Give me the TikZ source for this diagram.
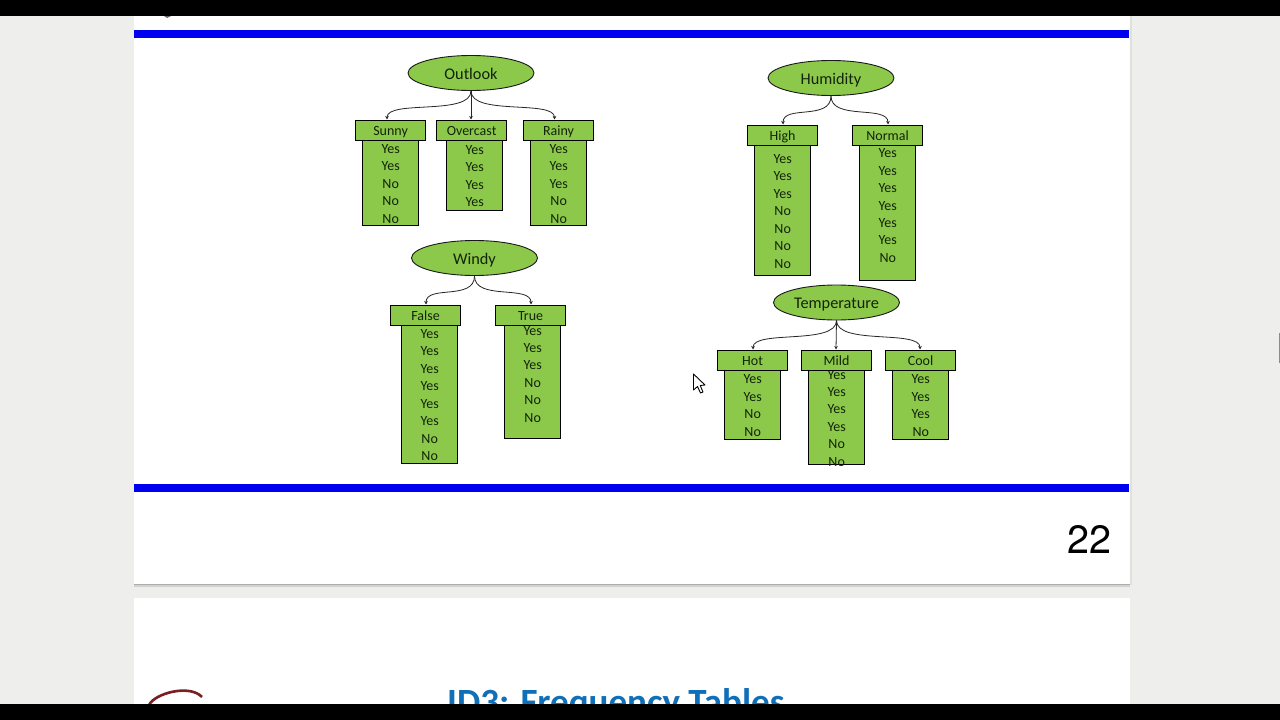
\documentclass[tikz,border=0pt]{standalone}
\usepackage{fontspec}
\setmainfont{Carlito}
\newfontfamily\numfont{TeX Gyre Heros}
\usetikzlibrary{shapes.geometric,arrows.meta,shadows}
\definecolor{leaf}{HTML}{8CC84A}
\definecolor{page}{HTML}{EEEEEC}
\definecolor{barblue}{HTML}{0000F0}
\definecolor{titleblue}{HTML}{0F6FB8}
\definecolor{logored}{HTML}{7A1E24}
\definecolor{ink}{HTML}{12240A}
\tikzset{
 attr/.style={ellipse,draw=black!90,line width=.9pt,fill=leaf,minimum width=126pt,minimum height=35pt,inner sep=0pt,text=ink,text height=12pt,text depth=0pt,font=\fontsize{16.3}{17}\selectfont},
 head/.style={rectangle,draw=black,line width=1pt,fill=leaf,minimum width=70pt,minimum height=20pt,inner sep=0pt,text=ink,text height=11pt,text depth=0pt,font=\fontsize{14}{15}\selectfont},
 body/.style={rectangle,draw=black,line width=1pt,fill=leaf,minimum width=56pt,inner sep=0pt},
 vote/.style={inner sep=0pt,text=ink,font=\fontsize{14}{15}\selectfont},
 link/.style={draw=black!85,line width=.8pt,-{Stealth[length=3.5pt,width=3.5pt]}},
 slide/.style={fill=white,draw=none},
}
% \leafbox{name}{label}{head x}{head top y}{body x}{body bottom y}{text x}{list y/word}
\newcommand{\leafbox}[8]{%
 \node[body,minimum height={#6-#4-20}] (#1b) at (#5,{(#4+20+#6)/2}) {};
 \foreach \yy/\ww [count=\ii] in {#8}{\node[vote] (#1v\ii) at (#7+.7,\yy+.9) {\ww};}
 \node[head] (#1) at (#3,#4+10) {\hspace{1.2pt}#2};
}
\newcommand{\sbend}[3]{\draw[link] (#1.south) .. controls +(0,25) and ([xshift=#3pt,yshift=20pt]#2.north) .. ([xshift=#3pt]#2.north);}
\begin{document}
\begin{tikzpicture}[x=1pt,y=-1pt]
\useasboundingbox (0,0) rectangle (1280,720);
\fill[page] (0,0) rectangle (1280,720);
% slides
\fill[black!50,opacity=.25] (134,584) rectangle (1130,587);
\fill[black!50,opacity=.45] (134,584) rectangle (1130,585.2);
\fill[black!50,opacity=.12] (1130,16) rectangle (1131.5,585);
\fill[slide] (134,16) rectangle (1130,584);
\fill[slide] (134,598) rectangle (1130,704);
\draw[black!30,line width=.6pt] (142,30) -- (320,30);
\fill[barblue] (134,30) rectangle (1129,38);
\fill[barblue] (134,484) rectangle (1129,492);
\node[inner sep=0pt,font=\numfont\fontsize{39.5}{40}\selectfont,text=black] (pagenum) at (1089,539) {22};
% Outlook
\node[attr] (outlook) at (471,73) {Outlook};
\leafbox{sunny}{Sunny}{390}{120}{390}{225}{390}{148/Yes,165/Yes,183/No,200/No,218/No}
\leafbox{overcast}{Overcast}{471}{120}{474}{210}{474}{149/Yes,166/Yes,184/Yes,201/Yes}
\leafbox{rainy}{Rainy}{558}{120}{558}{225}{558}{148/Yes,165/Yes,183/Yes,200/No,218/No}
\sbend{outlook}{sunny}{-3}
\draw[link] (outlook.south) -- (overcast.north);
\sbend{outlook}{rainy}{-3.5}
% Humidity
\node[attr] (humidity) at (831,78) {Humidity};
\leafbox{high}{High}{782}{125}{782}{275}{782}{158/Yes,175/Yes,193/Yes,210/No,228/No,245/No,263/No}
\leafbox{normal}{Normal}{887}{125}{887}{280}{887}{152/Yes,170/Yes,187/Yes,205/Yes,222/Yes,239/Yes,257/No}
\sbend{humidity}{high}{1}
\sbend{humidity}{normal}{1}
% Windy
\node[attr] (windy) at (474.5,258) {Windy};
\leafbox{false}{False}{425}{305}{429}{463}{429}{333/Yes,350/Yes,368/Yes,385/Yes,403/Yes,420/Yes,438/No,455/No}
\leafbox{true}{True}{530}{305}{532}{438}{532}{330/Yes,347/Yes,364/Yes,382/No,399/No,417/No}
\sbend{windy}{false}{1}
\sbend{windy}{true}{1}
% Temperature
\node[attr] (temperature) at (836.5,302.5) {Temperature};
\leafbox{hot}{Hot}{752}{350}{752}{439}{752}{378/Yes,396/Yes,413/No,431/No}
\leafbox{mild}{Mild}{836}{350}{836}{464}{836}{374/Yes,391/Yes,408/Yes,426/Yes,443/No,461/No}
\leafbox{cool}{Cool}{920}{350}{920}{439}{920}{378/Yes,396/Yes,413/Yes,431/No}
\sbend{temperature}{hot}{1}
\draw[link] (temperature.south) -- (mild.north);
\sbend{temperature}{cool}{0}
% cursor
\draw[black,fill=white,line width=.9pt,line join=round] (693.5,374) -- (693.5,390) -- (697.5,386.5) -- (700.5,393) -- (703,392) -- (700.2,385.5) -- (705,385) -- cycle;
% next slide fragments
\node[inner sep=0pt,anchor=base west,text=titleblue,font=\bfseries\fontsize{37}{38}\selectfont] (nexttitle) at (447,714) {ID3: Frequency Tables};
\draw[logored,line width=2.6pt] (149,705) .. controls (155,693) and (190,684) .. (202,697);
\fill[black!60] (164,16) -- (171,16) -- (167,18) -- cycle;
\fill[red!70!orange,opacity=.7] (1279,333) rectangle (1280,363);
% letterbox
\fill[black] (0,0) rectangle (1280,16);
\fill[black] (0,704) rectangle (1280,720);
\end{tikzpicture}
\end{document}
